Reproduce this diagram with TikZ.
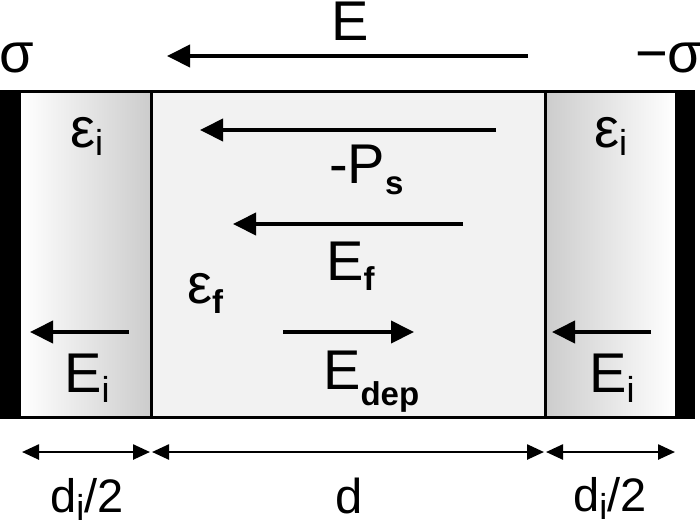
\documentclass[tikz,border=0pt]{standalone}
\usepackage{fontspec}
\setmainfont{Liberation Sans}
\usetikzlibrary{arrows.meta}
\newcommand\bigfont{\fontsize{56}{60}\selectfont}
\newcommand\midfont{\fontsize{49}{52}\selectfont}
\newcommand\smallfont{\fontsize{47}{50}\selectfont}
\newcommand\lsub[2][-11pt]{\raisebox{#1}{\fontsize{36}{36}\selectfont #2}}
\newcommand\bsub[2][-11pt]{\raisebox{#1}{\fontsize{33}{33}\selectfont\bfseries #2}}
\tikzset{
  fieldarrow/.style={line width=4pt, -{Triangle[length=23pt,width=22pt]}},
  dimarrow/.style={line width=2.5pt, {Triangle[length=17pt,width=15pt]}-{Triangle[length=17pt,width=15pt]}},
  lbl/.style={inner sep=0pt, font=\bigfont},
  wall/.style={line width=3pt},
}
\begin{document}
\begin{tikzpicture}[x=1pt,y=-1pt]
\useasboundingbox (0,0) rectangle (700,523);
% layers
\fill[black] (0,91) rectangle (21,418);
\shade[left color=white, right color=black!20] (21,91) rectangle (151,418);
\fill[black!5] (151,91) rectangle (545,418);
\shade[left color=black!20, right color=white] (545,91) rectangle (675,418);
\fill[black] (675,91) rectangle (695,418);
\draw[wall] (0,91) -- (695,91);
\draw[wall] (0,417) -- (695,417);
\draw[wall] (151,91) -- (151,418);
\draw[wall] (545,91) -- (545,418);
% arrow ends
\coordinate (Etail) at (528,56);   \coordinate (Ehead) at (167,56);
\coordinate (Ptail) at (496,130);  \coordinate (Phead) at (200,130);
\coordinate (Eftail) at (463,224); \coordinate (Efhead) at (233,224);
\coordinate (Edtail) at (283,332); \coordinate (Edhead) at (414,332);
\coordinate (Eltail) at (129,332); \coordinate (Elhead) at (30,332);
\coordinate (Ertail) at (651,332); \coordinate (Erhead) at (552,332);
\coordinate (dA) at (22,452);  \coordinate (dB) at (150,452);
\coordinate (dC) at (152,452); \coordinate (dD) at (544,452);
\coordinate (dE) at (546,452); \coordinate (dF) at (675,452);
% field arrows
\draw[fieldarrow] (Etail) -- (Ehead);
\draw[fieldarrow] (Ptail) -- (Phead);
\draw[fieldarrow] (Eftail) -- (Efhead);
\draw[fieldarrow] (Edtail) -- (Edhead);
\draw[fieldarrow] (Eltail) -- (Elhead);
\draw[fieldarrow] (Ertail) -- (Erhead);
% thickness arrows
\draw[dimarrow] (dA) -- (dB);
\draw[dimarrow] (dC) -- (dD);
\draw[dimarrow] (dE) -- (dF);
% labels
\node[lbl, anchor=base] (E) at (350,40) {E};
\node[lbl, anchor=base west] (sigL) at (-1,72) {σ};
\node[lbl, anchor=base west] (sigR) at (635,72) {−σ};
\node[lbl, anchor=base west] (epsL) at (70,147) {ε\lsub[-8pt]{i}};
\node[lbl, anchor=base west] (epsR) at (594,147) {ε\lsub[-8pt]{i}};
\node[lbl, anchor=base west] (Ps) at (329,183) {-P\bsub{s}};
\node[lbl, anchor=base west] (Ef) at (326,280) {E\bsub[-10pt]{f}};
\node[lbl, anchor=base west] (epsf) at (187,303) {ε\bsub[-10pt]{f}};
\node[lbl, anchor=base west] (Edep) at (323,389) {E\bsub[-16pt]{dep}};
\node[lbl, anchor=base west] (EiL) at (64,392) {E\lsub[-10pt]{i}};
\node[lbl, anchor=base west] (EiR) at (589,392) {E\lsub[-10pt]{i}};
\node[lbl, anchor=base, font=\smallfont] (diL) at (87,512) {d\lsub[-8pt]{i}/2};
\node[lbl, anchor=base, font=\midfont] (d) at (349,513) {d};
\node[lbl, anchor=base, font=\smallfont] (diR) at (610,511) {d\lsub[-8pt]{i}/2};
\end{tikzpicture}
\end{document}
